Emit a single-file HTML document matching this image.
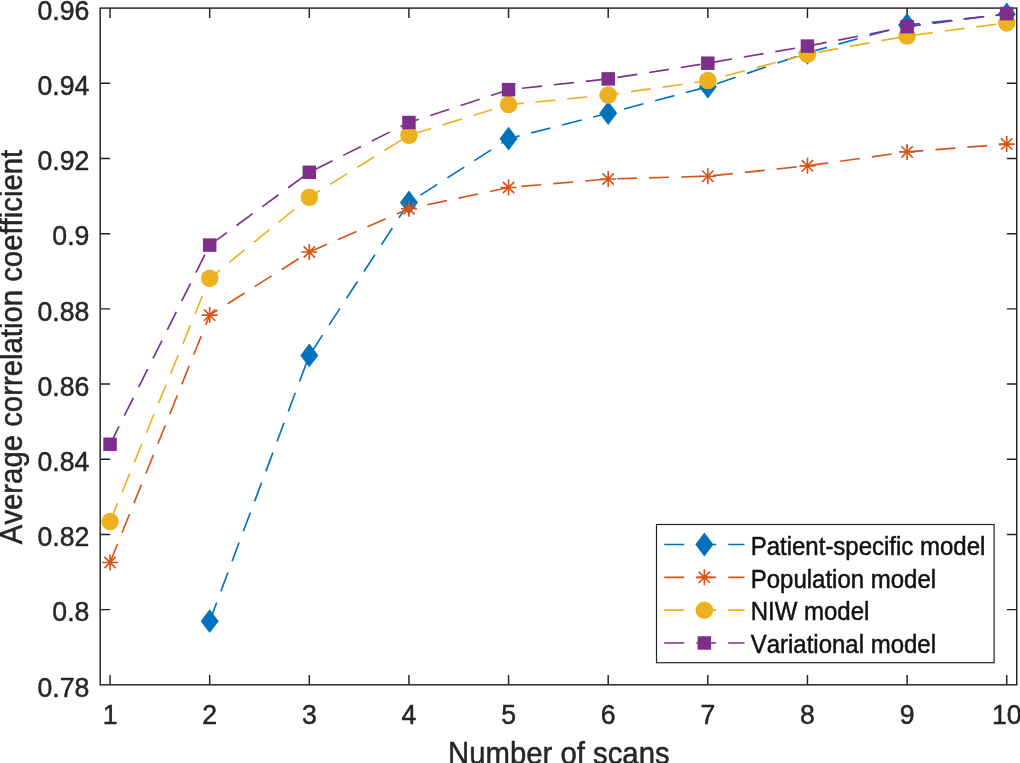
<!DOCTYPE html>
<html lang="en">
<head>
<meta charset="utf-8">
<title>Average correlation coefficient vs number of scans</title>
<style>
html,body{margin:0;padding:0;background:#fff;}
body{width:1020px;height:763px;overflow:hidden;}
svg{display:block;}
text{font-family:"Liberation Sans",Arial,Helvetica,sans-serif;fill:#262626;stroke:#262626;stroke-width:0.45px;font-kerning:none;}
.tk{font-size:26.67px;}
.lb{font-size:29.33px;}
.lg{font-size:24px;fill:#111;stroke:#111;}
</style>
</head>
<body>
<svg width="1020" height="763" viewBox="0 0 1020 763">
<rect x="0" y="0" width="1020" height="763" fill="#ffffff"/>
<g stroke="#222222" stroke-width="1.45" fill="none" stroke-linecap="butt">
<rect x="100.2" y="8.1" width="916.55" height="676.70"/>
<path d="M110.05 684.8v-9.9M110.05 8.1v9.9M209.68 684.8v-9.9M209.68 8.1v9.9M309.31 684.8v-9.9M309.31 8.1v9.9M408.94 684.8v-9.9M408.94 8.1v9.9M508.57 684.8v-9.9M508.57 8.1v9.9M608.20 684.8v-9.9M608.20 8.1v9.9M707.83 684.8v-9.9M707.83 8.1v9.9M807.46 684.8v-9.9M807.46 8.1v9.9M907.09 684.8v-9.9M907.09 8.1v9.9M1006.72 684.8v-9.9M1006.72 8.1v9.9M100.2 609.61h9.9M1016.75 609.61h-9.9M100.2 534.42h9.9M1016.75 534.42h-9.9M100.2 459.23h9.9M1016.75 459.23h-9.9M100.2 384.04h9.9M1016.75 384.04h-9.9M100.2 308.86h9.9M1016.75 308.86h-9.9M100.2 233.67h9.9M1016.75 233.67h-9.9M100.2 158.48h9.9M1016.75 158.48h-9.9M100.2 83.29h9.9M1016.75 83.29h-9.9"/>
</g>
<g class="tk" text-anchor="middle">
<text transform="translate(110.05 723.7) scale(1 1.07)">1</text>
<text transform="translate(209.68 723.7) scale(1 1.07)">2</text>
<text transform="translate(309.31 723.7) scale(1 1.07)">3</text>
<text transform="translate(408.94 723.7) scale(1 1.07)">4</text>
<text transform="translate(508.57 723.7) scale(1 1.07)">5</text>
<text transform="translate(608.20 723.7) scale(1 1.07)">6</text>
<text transform="translate(707.83 723.7) scale(1 1.07)">7</text>
<text transform="translate(807.46 723.7) scale(1 1.07)">8</text>
<text transform="translate(907.09 723.7) scale(1 1.07)">9</text>
<text transform="translate(1006.72 723.7) scale(1 1.07)">10</text>
</g>
<g class="tk" text-anchor="end">
<text transform="translate(89.4 696.60) scale(1 1.07)">0.78</text>
<text transform="translate(89.4 621.41) scale(1 1.07)">0.8</text>
<text transform="translate(89.4 546.22) scale(1 1.07)">0.82</text>
<text transform="translate(89.4 471.03) scale(1 1.07)">0.84</text>
<text transform="translate(89.4 395.84) scale(1 1.07)">0.86</text>
<text transform="translate(89.4 320.66) scale(1 1.07)">0.88</text>
<text transform="translate(89.4 245.47) scale(1 1.07)">0.9</text>
<text transform="translate(89.4 170.28) scale(1 1.07)">0.92</text>
<text transform="translate(89.4 95.09) scale(1 1.07)">0.94</text>
<text transform="translate(89.4 19.90) scale(1 1.07)">0.96</text>
</g>
<text class="lb" text-anchor="middle" transform="translate(558.8 764.3) scale(1 1.07)">Number of scans</text>
<text class="lb" text-anchor="middle" transform="translate(21.7 347.0) rotate(-90) scale(1 1.07)">Average correlation coefficient</text>
<g id="s-blue">
<polyline fill="none" stroke="#0072BD" stroke-width="1.65" stroke-dasharray="20 12" points="209.68,621.20 309.31,355.40 408.94,202.50 508.57,138.70 608.20,113.20 707.83,86.70 807.46,52.80 907.09,25.00 1006.72,14.30"/>
<path d="M209.68 609.30L218.68 621.20L209.68 633.10L200.68 621.20Z" fill="#0072BD"/>
<path d="M309.31 343.50L318.31 355.40L309.31 367.30L300.31 355.40Z" fill="#0072BD"/>
<path d="M408.94 190.60L417.94 202.50L408.94 214.40L399.94 202.50Z" fill="#0072BD"/>
<path d="M508.57 126.80L517.57 138.70L508.57 150.60L499.57 138.70Z" fill="#0072BD"/>
<path d="M608.20 101.30L617.20 113.20L608.20 125.10L599.20 113.20Z" fill="#0072BD"/>
<path d="M707.83 74.80L716.83 86.70L707.83 98.60L698.83 86.70Z" fill="#0072BD"/>
<path d="M807.46 40.90L816.46 52.80L807.46 64.70L798.46 52.80Z" fill="#0072BD"/>
<path d="M907.09 13.10L916.09 25.00L907.09 36.90L898.09 25.00Z" fill="#0072BD"/>
<path d="M1006.72 2.40L1015.72 14.30L1006.72 26.20L997.72 14.30Z" fill="#0072BD"/>
</g>
<g id="s-orange">
<polyline fill="none" stroke="#D95319" stroke-width="1.65" stroke-dasharray="20 12" points="110.05,562.50 209.68,315.10 309.31,252.00 408.94,208.70 508.57,187.50 608.20,179.00 707.83,176.20 807.46,165.80 907.09,151.90 1006.72,144.10"/>
<path d="M102.05 562.50H118.05M110.05 554.50V570.50M104.39 556.84L115.71 568.16M104.39 568.16L115.71 556.84" stroke="#D95319" stroke-width="1.65" fill="none"/>
<path d="M201.68 315.10H217.68M209.68 307.10V323.10M204.02 309.44L215.34 320.76M204.02 320.76L215.34 309.44" stroke="#D95319" stroke-width="1.65" fill="none"/>
<path d="M301.31 252.00H317.31M309.31 244.00V260.00M303.65 246.34L314.97 257.66M303.65 257.66L314.97 246.34" stroke="#D95319" stroke-width="1.65" fill="none"/>
<path d="M400.94 208.70H416.94M408.94 200.70V216.70M403.28 203.04L414.60 214.36M403.28 214.36L414.60 203.04" stroke="#D95319" stroke-width="1.65" fill="none"/>
<path d="M500.57 187.50H516.57M508.57 179.50V195.50M502.91 181.84L514.23 193.16M502.91 193.16L514.23 181.84" stroke="#D95319" stroke-width="1.65" fill="none"/>
<path d="M600.20 179.00H616.20M608.20 171.00V187.00M602.54 173.34L613.86 184.66M602.54 184.66L613.86 173.34" stroke="#D95319" stroke-width="1.65" fill="none"/>
<path d="M699.83 176.20H715.83M707.83 168.20V184.20M702.17 170.54L713.49 181.86M702.17 181.86L713.49 170.54" stroke="#D95319" stroke-width="1.65" fill="none"/>
<path d="M799.46 165.80H815.46M807.46 157.80V173.80M801.80 160.14L813.12 171.46M801.80 171.46L813.12 160.14" stroke="#D95319" stroke-width="1.65" fill="none"/>
<path d="M899.09 151.90H915.09M907.09 143.90V159.90M901.43 146.24L912.75 157.56M901.43 157.56L912.75 146.24" stroke="#D95319" stroke-width="1.65" fill="none"/>
<path d="M998.72 144.10H1014.72M1006.72 136.10V152.10M1001.06 138.44L1012.38 149.76M1001.06 149.76L1012.38 138.44" stroke="#D95319" stroke-width="1.65" fill="none"/>
</g>
<g id="s-yellow">
<polyline fill="none" stroke="#EDB120" stroke-width="1.65" stroke-dasharray="20 12" points="110.05,521.60 209.68,278.30 309.31,197.20 408.94,135.30 508.57,104.60 608.20,95.00 707.83,80.50 807.46,54.20 907.09,36.00 1006.72,22.90"/>
<circle cx="110.05" cy="521.60" r="8.75" fill="#EDB120"/>
<circle cx="209.68" cy="278.30" r="8.75" fill="#EDB120"/>
<circle cx="309.31" cy="197.20" r="8.75" fill="#EDB120"/>
<circle cx="408.94" cy="135.30" r="8.75" fill="#EDB120"/>
<circle cx="508.57" cy="104.60" r="8.75" fill="#EDB120"/>
<circle cx="608.20" cy="95.00" r="8.75" fill="#EDB120"/>
<circle cx="707.83" cy="80.50" r="8.75" fill="#EDB120"/>
<circle cx="807.46" cy="54.20" r="8.75" fill="#EDB120"/>
<circle cx="907.09" cy="36.00" r="8.75" fill="#EDB120"/>
<circle cx="1006.72" cy="22.90" r="8.75" fill="#EDB120"/>
</g>
<g id="s-purple">
<polyline fill="none" stroke="#7E2F8E" stroke-width="1.65" stroke-dasharray="20 12" points="110.05,444.30 209.68,245.10 309.31,172.30 408.94,122.50 508.57,89.70 608.20,78.90 707.83,63.20 807.46,46.10 907.09,26.70 1006.72,13.60"/>
<rect x="103.30" y="437.55" width="13.50" height="13.50" fill="#7E2F8E"/>
<rect x="202.93" y="238.35" width="13.50" height="13.50" fill="#7E2F8E"/>
<rect x="302.56" y="165.55" width="13.50" height="13.50" fill="#7E2F8E"/>
<rect x="402.19" y="115.75" width="13.50" height="13.50" fill="#7E2F8E"/>
<rect x="501.82" y="82.95" width="13.50" height="13.50" fill="#7E2F8E"/>
<rect x="601.45" y="72.15" width="13.50" height="13.50" fill="#7E2F8E"/>
<rect x="701.08" y="56.45" width="13.50" height="13.50" fill="#7E2F8E"/>
<rect x="800.71" y="39.35" width="13.50" height="13.50" fill="#7E2F8E"/>
<rect x="900.34" y="19.95" width="13.50" height="13.50" fill="#7E2F8E"/>
<rect x="999.97" y="6.85" width="13.50" height="13.50" fill="#7E2F8E"/>
</g>
<rect x="656.5" y="524.5" width="337.6" height="138.2" fill="#fff" stroke="#222222" stroke-width="1.2"/>
<path d="M664.2 544.50H744.5" stroke="#0072BD" stroke-width="1.65" stroke-dasharray="20 12" fill="none"/>
<path d="M704.35 532.60L713.35 544.50L704.35 556.40L695.35 544.50Z" fill="#0072BD"/>
<text class="lg" transform="translate(750.7 554.80) scale(1 1.05)">Patient-specific model</text>
<path d="M664.2 577.33H744.5" stroke="#D95319" stroke-width="1.65" stroke-dasharray="20 12" fill="none"/>
<path d="M696.35 577.33H712.35M704.35 569.33V585.33M698.69 571.67L710.01 582.99M698.69 582.99L710.01 571.67" stroke="#D95319" stroke-width="1.65" fill="none"/>
<text class="lg" transform="translate(750.7 587.63) scale(1 1.05)">Population model</text>
<path d="M664.2 610.16H744.5" stroke="#EDB120" stroke-width="1.65" stroke-dasharray="20 12" fill="none"/>
<circle cx="704.35" cy="610.16" r="8.75" fill="#EDB120"/>
<text class="lg" transform="translate(750.7 620.46) scale(1 1.05)">NIW model</text>
<path d="M664.2 642.99H744.5" stroke="#7E2F8E" stroke-width="1.65" stroke-dasharray="20 12" fill="none"/>
<rect x="697.60" y="636.24" width="13.50" height="13.50" fill="#7E2F8E"/>
<text class="lg" transform="translate(750.7 653.29) scale(1 1.05)">Variational model</text>
</svg>
</body>
</html>
